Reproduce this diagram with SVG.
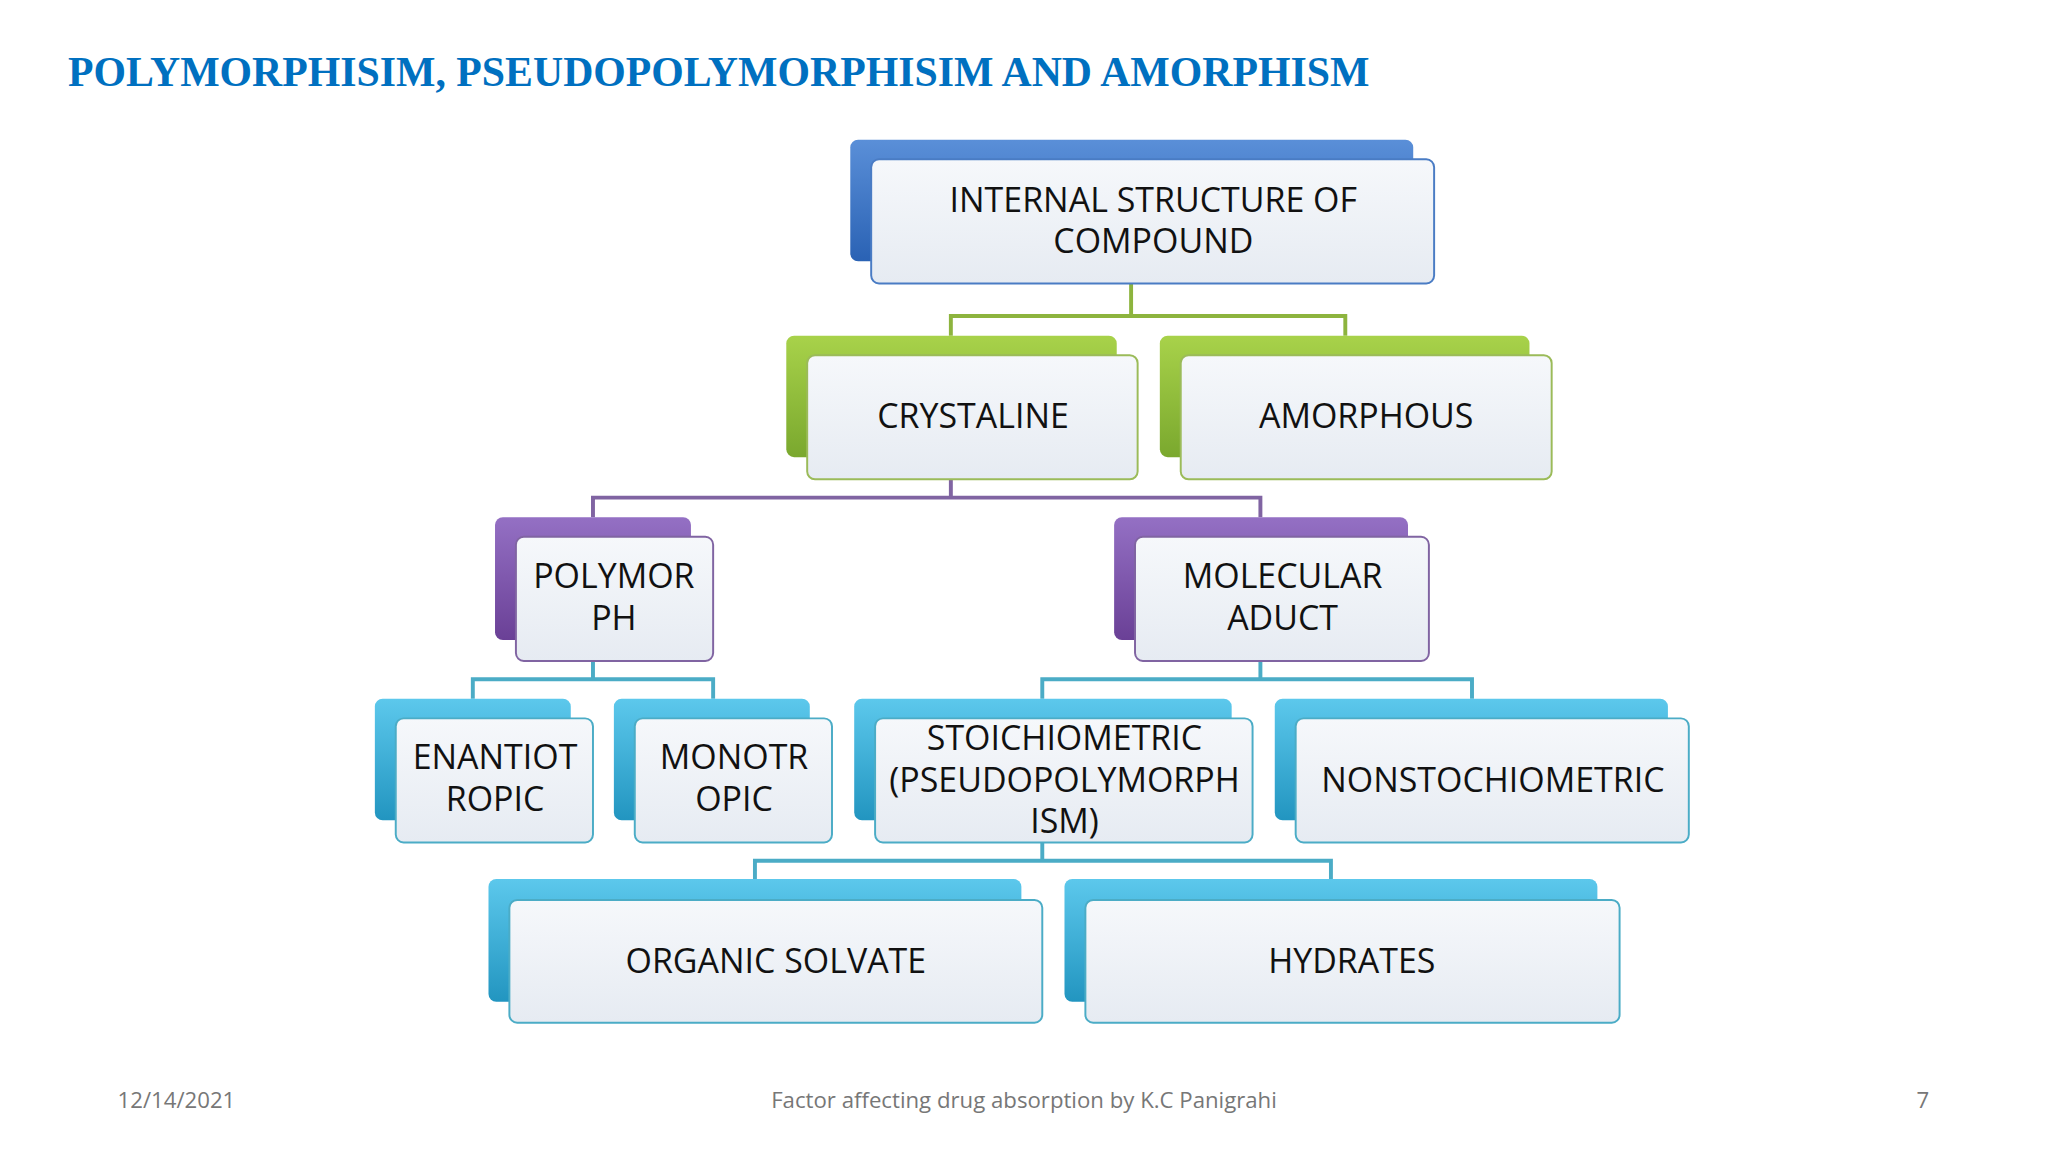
<svg xmlns="http://www.w3.org/2000/svg" width="2048" height="1152" viewBox="0 0 2048 1152">
<defs>
<linearGradient id="gb" x1="0" y1="0" x2="0" y2="1"><stop offset="0" stop-color="#5a8fd8"/><stop offset="1" stop-color="#2a62b4"/></linearGradient>
<linearGradient id="gg" x1="0" y1="0" x2="0" y2="1"><stop offset="0" stop-color="#a8d24a"/><stop offset="1" stop-color="#7aa82e"/></linearGradient>
<linearGradient id="gp" x1="0" y1="0" x2="0" y2="1"><stop offset="0" stop-color="#9470c4"/><stop offset="1" stop-color="#6a4096"/></linearGradient>
<linearGradient id="gt" x1="0" y1="0" x2="0" y2="1"><stop offset="0" stop-color="#5cc8ec"/><stop offset="1" stop-color="#2295c0"/></linearGradient>
<linearGradient id="gf" x1="0" y1="0" x2="0" y2="1"><stop offset="0" stop-color="#f6f8fb"/><stop offset="1" stop-color="#e6ebf2"/></linearGradient>
</defs>
<style>
.t{font-family:"Open Sans","Liberation Sans",sans-serif;font-size:26px;fill:#111;text-anchor:middle}
.f{fill:url(#gf);stroke-width:1.5}
.c{fill:none;stroke-width:3}
.ft{font-family:"Open Sans","Liberation Sans",sans-serif;font-size:17px;fill:#777}
</style>
<rect width="2048" height="1152" fill="#fff"/>
<g transform="scale(1.30612)">
<text x="52" y="66" font-family="Liberation Serif,serif" font-weight="bold" font-size="32" fill="#0070C0">POLYMORPHISIM, PSEUDOPOLYMORPHISIM AND AMORPHISM</text>
<g id="connectors">
<path class="c" stroke="#8DB43E" d="M866 217V242M728 257V242H1030V257"/>
<path class="c" stroke="#8064A2" d="M728 367V381M454 396V381H965V396"/>
<path class="c" stroke="#4BACC6" d="M454 506V520M362 535V520H546V535M965 506V520M798 535V520H1127V535M798 645V659M578 673V659H1019V673"/>
</g>
<g id="n1"><rect x="651" y="107" width="431" height="93" rx="6" fill="url(#gb)"/><rect class="f" x="667" y="122" width="431" height="95" rx="6" stroke="#4a7cc4"/><text class="t" x="883" y="162">INTERNAL STRUCTURE OF</text><text class="t" x="883" y="194">COMPOUND</text></g>
<g id="n2"><rect x="602" y="257" width="253" height="93" rx="6" fill="url(#gg)"/><rect class="f" x="618" y="272" width="253" height="95" rx="6" stroke="#9bbb59"/><text class="t" x="745" y="328">CRYSTALINE</text></g>
<g id="n3"><rect x="888" y="257" width="283" height="93" rx="6" fill="url(#gg)"/><rect class="f" x="904" y="272" width="284" height="95" rx="6" stroke="#9bbb59"/><text class="t" x="1046" y="328">AMORPHOUS</text></g>
<g id="n4"><rect x="379" y="396" width="150" height="94" rx="6" fill="url(#gp)"/><rect class="f" x="395" y="411" width="151" height="95" rx="6" stroke="#8064A2"/><text class="t" x="470" y="450">POLYMOR</text><text class="t" x="470" y="482">PH</text></g>
<g id="n5"><rect x="853" y="396" width="225" height="94" rx="6" fill="url(#gp)"/><rect class="f" x="869" y="411" width="225" height="95" rx="6" stroke="#8064A2"/><text class="t" x="982" y="450">MOLECULAR</text><text class="t" x="982" y="482">ADUCT</text></g>
<g id="n6"><rect x="287" y="535" width="150" height="93" rx="6" fill="url(#gt)"/><rect class="f" x="303" y="550" width="151" height="95" rx="6" stroke="#4BACC6"/><text class="t" x="379" y="589">ENANTIOT</text><text class="t" x="379" y="621">ROPIC</text></g>
<g id="n7"><rect x="470" y="535" width="150" height="93" rx="6" fill="url(#gt)"/><rect class="f" x="486" y="550" width="151" height="95" rx="6" stroke="#4BACC6"/><text class="t" x="562" y="589">MONOTR</text><text class="t" x="562" y="621">OPIC</text></g>
<g id="n8"><rect x="654" y="535" width="289" height="93" rx="6" fill="url(#gt)"/><rect class="f" x="670" y="550" width="289" height="95" rx="6" stroke="#4BACC6"/><text class="t" x="815" y="574">STOICHIOMETRIC</text><text class="t" x="815" y="606">(PSEUDOPOLYMORPH</text><text class="t" x="815" y="638">ISM)</text></g>
<g id="n9"><rect x="976" y="535" width="301" height="93" rx="6" fill="url(#gt)"/><rect class="f" x="992" y="550" width="301" height="95" rx="6" stroke="#4BACC6"/><text class="t" x="1143" y="606">NONSTOCHIOMETRIC</text></g>
<g id="n10"><rect x="374" y="673" width="408" height="94" rx="6" fill="url(#gt)"/><rect class="f" x="390" y="689" width="408" height="94" rx="6" stroke="#4BACC6"/><text class="t" x="594" y="745">ORGANIC SOLVATE</text></g>
<g id="n11"><rect x="815" y="673" width="408" height="94" rx="6" fill="url(#gt)"/><rect class="f" x="831" y="689" width="409" height="94" rx="6" stroke="#4BACC6"/><text class="t" x="1035" y="745">HYDRATES</text></g>
<text class="ft" x="90" y="848">12/14/2021</text>
<text class="ft" x="784" y="848" text-anchor="middle">Factor affecting drug absorption by K.C Panigrahi</text>
<text class="ft" x="1477" y="848" text-anchor="end">7</text>
</g>
</svg>
